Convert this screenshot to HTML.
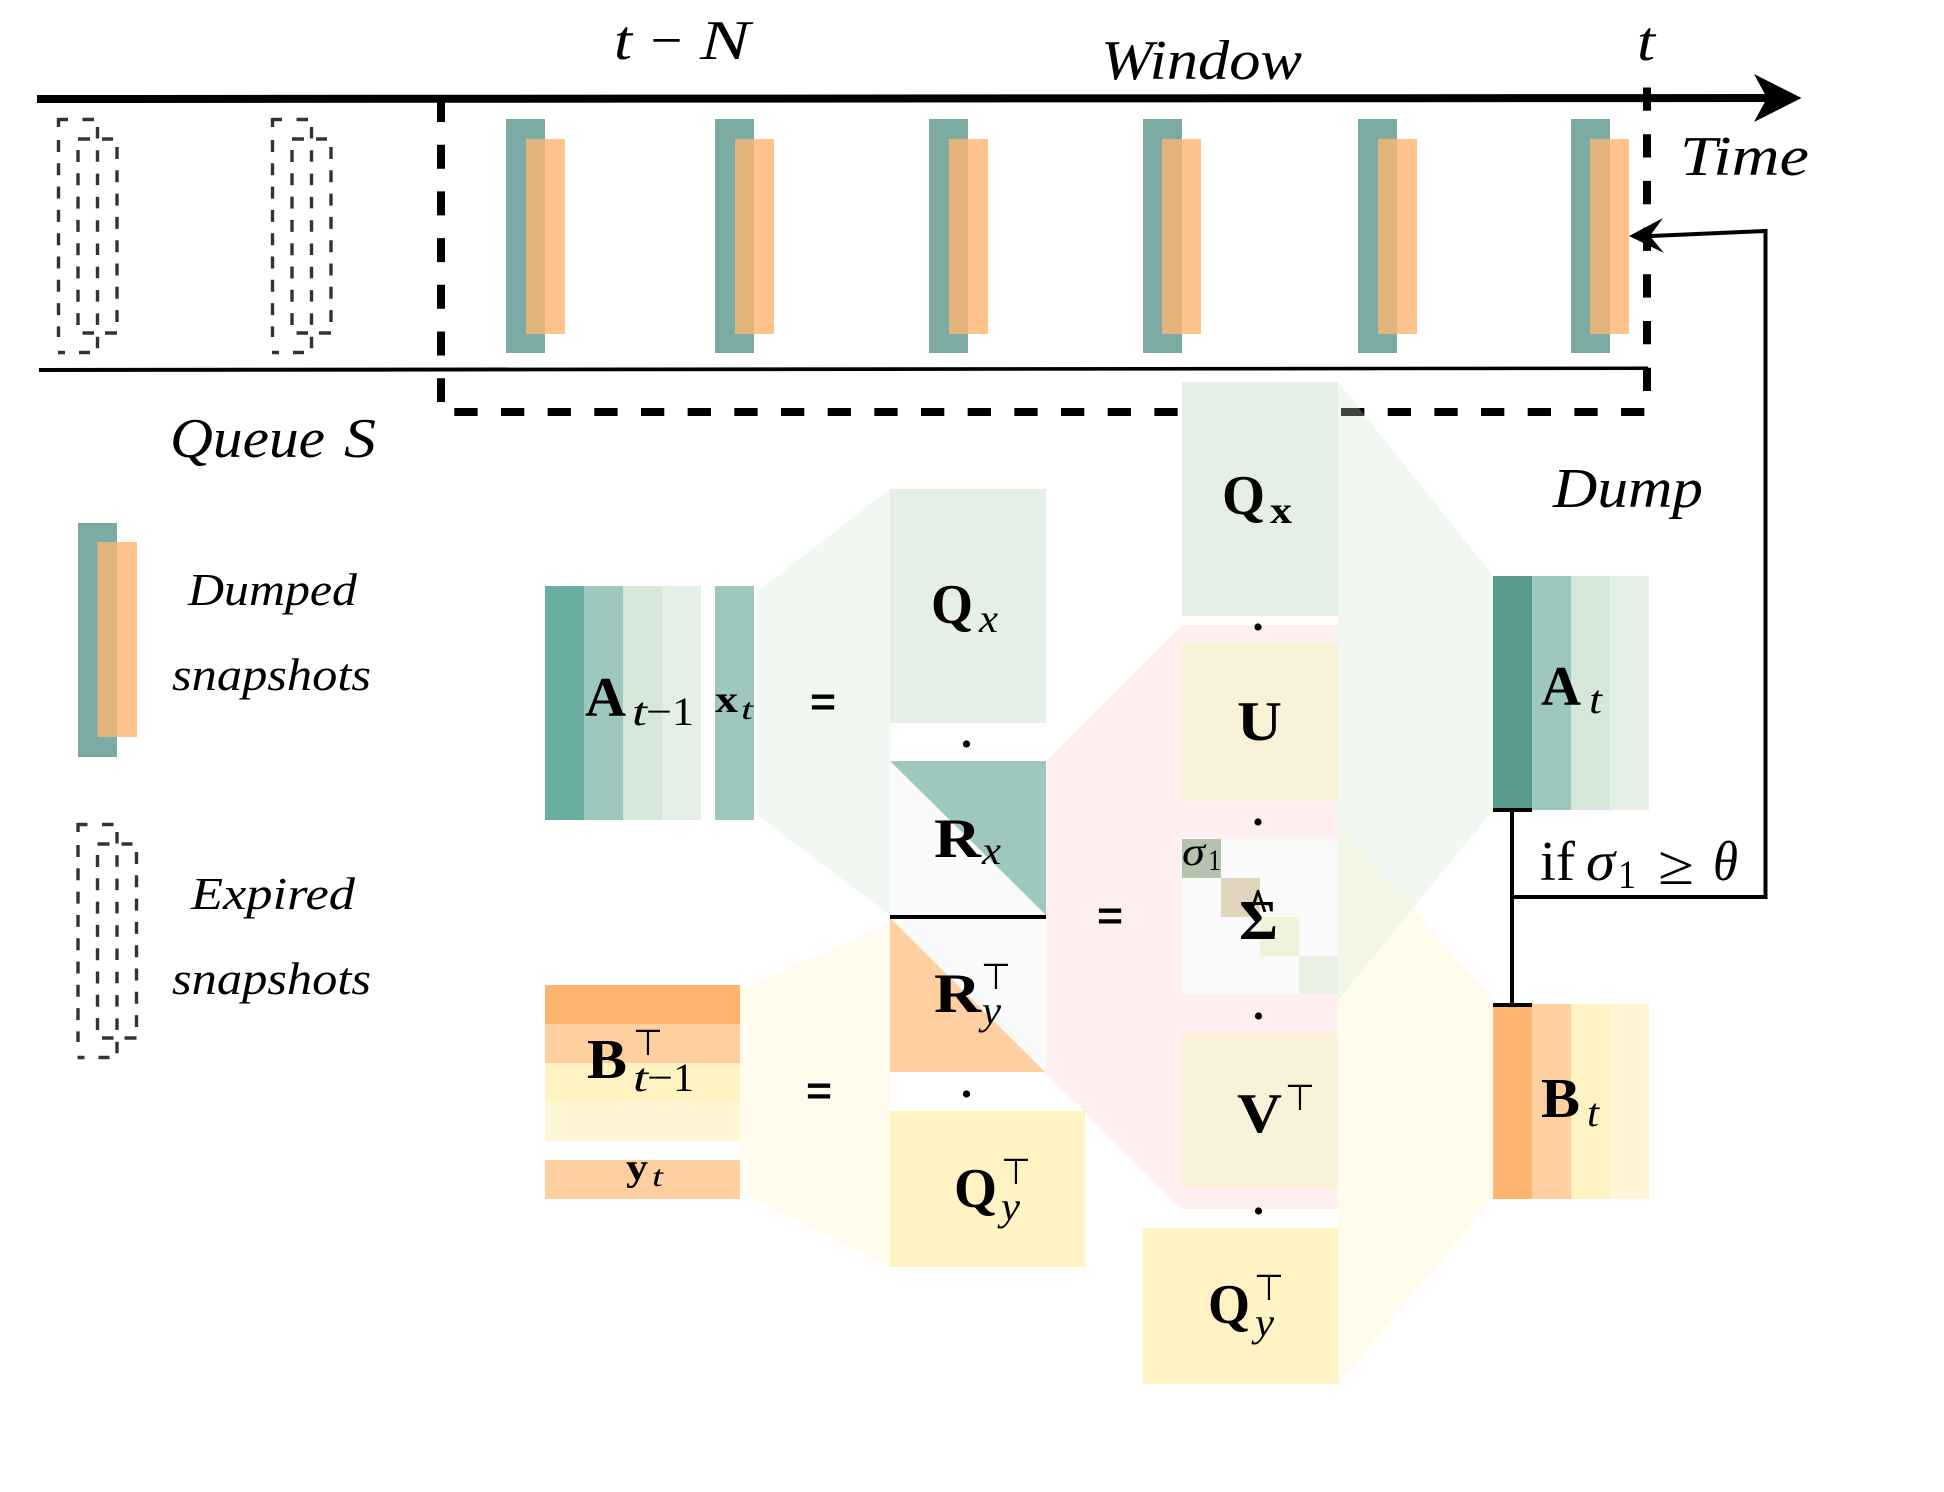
<!DOCTYPE html>
<html><head><meta charset="utf-8"><style>
html,body{margin:0;padding:0;background:#fff}
svg{display:block}
.i{font-family:"Liberation Serif",serif;font-style:italic;fill:#000}
.b{font-family:"Liberation Serif",serif;font-weight:bold;fill:#000}
.r{font-family:"Liberation Serif",serif;fill:#000}
.e{font-family:"Liberation Sans",sans-serif;font-weight:bold;fill:#000}
.t{font-family:"DejaVu Sans",sans-serif;fill:#000}
</style></head><body>
<svg width="1944" height="1492" viewBox="0 0 1944 1492" xmlns="http://www.w3.org/2000/svg">
<defs>
<g id="q" fill="none" stroke="#333" stroke-width="3.4">
<path d="M58 119.5H68M82.500 119.500H94"/>
<path d="M58.500 118V127"/>
<line x1="58.500" y1="140" x2="58.500" y2="337" stroke-dasharray="12 11.300"/>
<path d="M58 352.500H65M79 352.500H90"/>
<line x1="97.500" y1="127" x2="97.500" y2="349" stroke-dasharray="11.500 11.800"/>
<path d="M78 139H90M102 139H113"/>
<line x1="78" y1="150" x2="78" y2="325" stroke-dasharray="12 11.300"/>
<line x1="117" y1="147" x2="117" y2="322" stroke-dasharray="12 11.300"/>
<path d="M82.500 333H94M105 333H117"/>
</g>
</defs>
<rect width="1944" height="1492" fill="#fff"/>

<!-- window dashed -->
<line x1="441" y1="98" x2="441" y2="402" stroke="#000" stroke-width="8" stroke-dasharray="24 22.7"/>
<line x1="454.300" y1="412" x2="1645" y2="412" stroke="#000" stroke-width="8" stroke-dasharray="23.3 23.37"/>
<line x1="1647" y1="87.500" x2="1647" y2="391" stroke="#000" stroke-width="8" stroke-dasharray="23.3 23.4"/>

<!-- trapezoids -->
<polygon points="757,592 890,489 890,915 757,815" fill="#f1f8f2"/>
<polygon points="740,990 890,923 890,1267 740,1192" fill="#fffcee"/>
<polygon points="1046,761 1182,625 1338,625 1338,1209 1182,1209 1045,1072" fill="#fff0ef"/>
<polygon points="1338,823 1493,1000 1493,1198 1338,1384" fill="rgb(255,245,198)" opacity=".3"/>
<polygon points="1338,382 1493,576 1493,810 1338,1000" fill="rgb(208,232,212)" opacity=".3"/>

<!-- timeline lines -->
<polygon points="37,95 1770,94 1770,102 37,103" fill="#000"/>
<polygon points="1801.500,98 1754,74 1767,98 1754,122" fill="#000"/>
<polygon points="39,368 1648,366.500 1648,370 39,372" fill="#000"/>

<!-- queue dashed -->
<use href="#q"/>
<use href="#q" transform="translate(214 0)"/>
<use href="#q" transform="translate(19.500 705)"/>

<!-- snapshots -->
<g>
<rect x="506" y="119" width="39" height="234" fill="#7babA2"/><rect x="526" y="139" width="39" height="195" fill="#fdc38b"/><rect x="526" y="139" width="19" height="195" fill="#e3b47b"/>
<rect x="715" y="119" width="39" height="234" fill="#7babA2"/><rect x="735" y="139" width="39" height="195" fill="#fdc38b"/><rect x="735" y="139" width="19" height="195" fill="#e3b47b"/>
<rect x="929" y="119" width="39" height="234" fill="#7babA2"/><rect x="949" y="139" width="39" height="195" fill="#fdc38b"/><rect x="949" y="139" width="19" height="195" fill="#e3b47b"/>
<rect x="1143" y="119" width="39" height="234" fill="#7babA2"/><rect x="1162" y="139" width="39" height="195" fill="#fdc38b"/><rect x="1162" y="139" width="20" height="195" fill="#e3b47b"/>
<rect x="1358" y="119" width="39" height="234" fill="#7babA2"/><rect x="1378" y="139" width="39" height="195" fill="#fdc38b"/><rect x="1378" y="139" width="19" height="195" fill="#e3b47b"/>
<rect x="1571" y="119" width="39" height="234" fill="#7babA2"/><rect x="1590" y="139" width="39" height="195" fill="#fdc38b"/><rect x="1590" y="139" width="20" height="195" fill="#e3b47b"/>
<rect x="78" y="523" width="39" height="234" fill="#7babA2"/><rect x="97.500" y="542" width="39.500" height="195" fill="#fdc38b"/><rect x="97.500" y="542" width="19.500" height="195" fill="#e3b47b"/>
</g>

<!-- A t-1, x_t -->
<rect x="545" y="586" width="39" height="234" fill="#6aaea2"/>
<rect x="584" y="586" width="39" height="234" fill="#9dc7bf"/>
<rect x="623" y="586" width="39" height="234" fill="#d5e8d8"/>
<rect x="662" y="586" width="39" height="234" fill="#e4f0e5"/>
<rect x="715" y="586" width="39" height="234" fill="#9dc7bf"/>

<!-- B t-1, y_t -->
<rect x="545" y="985" width="195" height="39" fill="#ffb470"/>
<rect x="545" y="1024" width="195" height="39" fill="#ffcfa0"/>
<rect x="545" y="1063" width="195" height="39" fill="#fff2c3"/>
<rect x="545" y="1102" width="195" height="39" fill="#fff6d6"/>
<rect x="545" y="1160" width="195" height="39" fill="#ffcfa0"/>

<!-- QR -->
<rect x="890" y="489" width="156" height="234" fill="#e4f0e5"/>
<rect x="890" y="761" width="156" height="155" fill="#fafafa"/>
<polygon points="890,761 1046,761 1046,915" fill="#9dc7bf"/>
<rect x="890" y="918" width="156" height="154" fill="#fafafa"/>
<polygon points="890,918 890,1072 1045,1072" fill="#ffcfa0"/>
<rect x="890" y="915" width="156" height="4" fill="#000"/>
<rect x="890" y="1111" width="195" height="156" fill="#fff3c4"/>

<!-- SVD -->
<rect x="1182" y="382" width="156" height="234" fill="#e4f0e5"/>
<rect x="1182" y="643" width="156" height="157" fill="#f9f1d8"/>
<rect x="1182" y="839" width="156" height="155" fill="#fafafa"/>
<rect x="1182" y="839" width="39" height="39" fill="#b3c3ad"/>
<rect x="1221" y="878" width="39" height="39" fill="#e2d4bd"/>
<rect x="1260" y="917" width="39" height="39" fill="#f0f3dc"/>
<rect x="1299" y="956" width="39" height="38" fill="#e8f0e2"/>
<rect x="1182" y="1033" width="156" height="156" fill="#f9f1d8"/>
<rect x="1143" y="1228" width="195" height="156" fill="#fff3c4"/>

<!-- A_t B_t -->
<rect x="1493" y="576" width="39" height="234" fill="#589b8e"/>
<rect x="1532" y="576" width="39" height="234" fill="#9dc7bf"/>
<rect x="1571" y="576" width="39" height="234" fill="#d5e8d8"/>
<rect x="1610" y="576" width="39" height="234" fill="#e4f0e5"/>
<rect x="1493" y="1004" width="39" height="195" fill="#ffb470"/>
<rect x="1532" y="1004" width="39" height="195" fill="#ffcfa0"/>
<rect x="1571" y="1004" width="39" height="195" fill="#fff2c3"/>
<rect x="1610" y="1004" width="39" height="195" fill="#fff6d6"/>

<!-- connector -->
<rect x="1493" y="808" width="39" height="4" fill="#000"/>
<rect x="1493" y="1003" width="39" height="4" fill="#000"/>
<line x1="1512" y1="810" x2="1512" y2="1004" stroke="#000" stroke-width="4"/>
<polyline points="1512,897 1765.500,897 1765.500,231 1650,236" fill="none" stroke="#000" stroke-width="4"/>
<polygon points="1629,236 1663,218 1650,236 1664,253" fill="#000"/>

<!-- dots -->
<g fill="#000">
<circle cx="966.500" cy="744" r="3.600"/>
<circle cx="966.500" cy="1094" r="3.600"/>
<circle cx="1258" cy="627" r="3.600"/>
<circle cx="1258" cy="822" r="3.600"/>
<circle cx="1258.500" cy="1016" r="3.600"/>
<circle cx="1258.500" cy="1211" r="3.600"/>
</g>

<!-- labels -->
<g class="i" font-size="56">
<text class="i" x="614" y="59" textLength="18" lengthAdjust="spacingAndGlyphs">t</text>
<text class="r" x="647" y="59" textLength="38" lengthAdjust="spacingAndGlyphs">−</text>
<text class="i" x="700" y="59" textLength="50" lengthAdjust="spacingAndGlyphs">N</text>
<text class="i" x="1101" y="79" textLength="201" lengthAdjust="spacingAndGlyphs">Window</text>
<text class="i" x="1637" y="60" textLength="18" lengthAdjust="spacingAndGlyphs">t</text>
<text class="i" x="1680" y="175" textLength="129" lengthAdjust="spacingAndGlyphs">Time</text>
<text class="i" x="170" y="457" textLength="155" lengthAdjust="spacingAndGlyphs">Queue</text>
<text class="i" x="344" y="457" textLength="32" lengthAdjust="spacingAndGlyphs">S</text>
<text class="i" x="1553" y="507" textLength="150" lengthAdjust="spacingAndGlyphs">Dump</text>
</g>
<g font-size="45">
<text class="i" x="188" y="605" textLength="169" lengthAdjust="spacingAndGlyphs">Dumped</text>
<text class="i" x="172" y="690" textLength="199" lengthAdjust="spacingAndGlyphs">snapshots</text>
<text class="i" x="191" y="909" textLength="164" lengthAdjust="spacingAndGlyphs">Expired</text>
<text class="i" x="172" y="994" textLength="199" lengthAdjust="spacingAndGlyphs">snapshots</text>
</g>

<g font-size="56">
<text class="b" x="585" y="716" textLength="41" lengthAdjust="spacingAndGlyphs">A</text>
<text class="b" x="931" y="623" textLength="42" lengthAdjust="spacingAndGlyphs">Q</text>
<text class="b" x="934" y="857" textLength="47" lengthAdjust="spacingAndGlyphs">R</text>
<text class="b" x="934" y="1012" textLength="47" lengthAdjust="spacingAndGlyphs">R</text>
<text class="b" x="954" y="1207" textLength="43" lengthAdjust="spacingAndGlyphs">Q</text>
<text class="b" x="1222" y="514" textLength="43" lengthAdjust="spacingAndGlyphs">Q</text>
<text class="b" x="1237" y="740" textLength="45" lengthAdjust="spacingAndGlyphs">U</text>
<text class="b" x="1239" y="939" textLength="39" lengthAdjust="spacingAndGlyphs">Σ</text>
<text class="b" x="1237" y="1132" textLength="45" lengthAdjust="spacingAndGlyphs">V</text>
<text class="b" x="1208" y="1323" textLength="42" lengthAdjust="spacingAndGlyphs">Q</text>
<text class="b" x="1541" y="705" textLength="40" lengthAdjust="spacingAndGlyphs">A</text>
<text class="b" x="1541" y="1117" textLength="39" lengthAdjust="spacingAndGlyphs">B</text>
<text class="b" x="587" y="1078" textLength="40" lengthAdjust="spacingAndGlyphs">B</text>
</g>
<text class="b" x="1248" y="920" font-size="46" textLength="20" lengthAdjust="spacingAndGlyphs" stroke="#000" stroke-width=".8">^</text>

<g font-size="40">
<text class="i" x="632" y="725" textLength="15" lengthAdjust="spacingAndGlyphs">t</text>
<text class="r" x="646" y="725" textLength="26" lengthAdjust="spacingAndGlyphs">−</text>
<text class="r" x="672" y="725" textLength="22" lengthAdjust="spacingAndGlyphs">1</text>
<text class="i" x="633" y="1091" textLength="15" lengthAdjust="spacingAndGlyphs">t</text>
<text class="r" x="647" y="1091" textLength="26" lengthAdjust="spacingAndGlyphs">−</text>
<text class="r" x="673" y="1091" textLength="21" lengthAdjust="spacingAndGlyphs">1</text>
<text class="i" x="979" y="632" textLength="19" lengthAdjust="spacingAndGlyphs">x</text>
<text class="i" x="982" y="864" textLength="19" lengthAdjust="spacingAndGlyphs">x</text>
<text class="i" x="982" y="1024" textLength="19" lengthAdjust="spacingAndGlyphs">y</text>
<text class="i" x="1001" y="1220" textLength="19" lengthAdjust="spacingAndGlyphs">y</text>
<text class="i" x="1255" y="1336" textLength="19" lengthAdjust="spacingAndGlyphs">y</text>
<text class="i" x="1589" y="713" textLength="13" lengthAdjust="spacingAndGlyphs">t</text>
<text class="i" x="1587" y="1126" textLength="12" lengthAdjust="spacingAndGlyphs">t</text>
<text class="i" x="1182" y="865" textLength="23" lengthAdjust="spacingAndGlyphs">σ</text>
<text class="r" x="1208" y="870" font-size="30" textLength="13" lengthAdjust="spacingAndGlyphs">1</text>
</g>

<text class="b" x="715" y="712" font-size="38" textLength="23" lengthAdjust="spacingAndGlyphs">x</text>
<text class="i" x="741" y="719" font-size="30" textLength="12" lengthAdjust="spacingAndGlyphs">t</text>
<text class="b" x="626" y="1180" font-size="38" textLength="22" lengthAdjust="spacingAndGlyphs">y</text>
<text class="i" x="652" y="1186" font-size="30" textLength="11" lengthAdjust="spacingAndGlyphs">t</text>
<text class="b" x="1270" y="523" font-size="38" textLength="22" lengthAdjust="spacingAndGlyphs">x</text>

<g font-size="36">
<text class="t" x="981" y="989" textLength="30" lengthAdjust="spacingAndGlyphs">⊤</text>
<text class="t" x="1001" y="1184" textLength="30" lengthAdjust="spacingAndGlyphs">⊤</text>
<text class="t" x="1285" y="1110" textLength="30" lengthAdjust="spacingAndGlyphs">⊤</text>
<text class="t" x="1254" y="1300" textLength="30" lengthAdjust="spacingAndGlyphs">⊤</text>
<text class="t" x="633" y="1055" textLength="30" lengthAdjust="spacingAndGlyphs">⊤</text>
</g>

<g font-size="40">
<text class="e" x="810" y="715" textLength="26" lengthAdjust="spacingAndGlyphs">=</text>
<text class="e" x="806" y="1104" textLength="26" lengthAdjust="spacingAndGlyphs">=</text>
<text class="e" x="1097" y="929" textLength="26" lengthAdjust="spacingAndGlyphs">=</text>
</g>

<g font-size="56">
<text class="r" x="1540" y="880" textLength="35" lengthAdjust="spacingAndGlyphs">if</text>
<text class="i" x="1586" y="880" textLength="29" lengthAdjust="spacingAndGlyphs">σ</text>
<text class="r" x="1618" y="888" font-size="40" textLength="18" lengthAdjust="spacingAndGlyphs">1</text>
<text class="r" x="1658" y="884" textLength="36" lengthAdjust="spacingAndGlyphs">≥</text>
<text class="i" x="1713" y="880" textLength="25" lengthAdjust="spacingAndGlyphs">θ</text>
</g>
</svg>
</body></html>
